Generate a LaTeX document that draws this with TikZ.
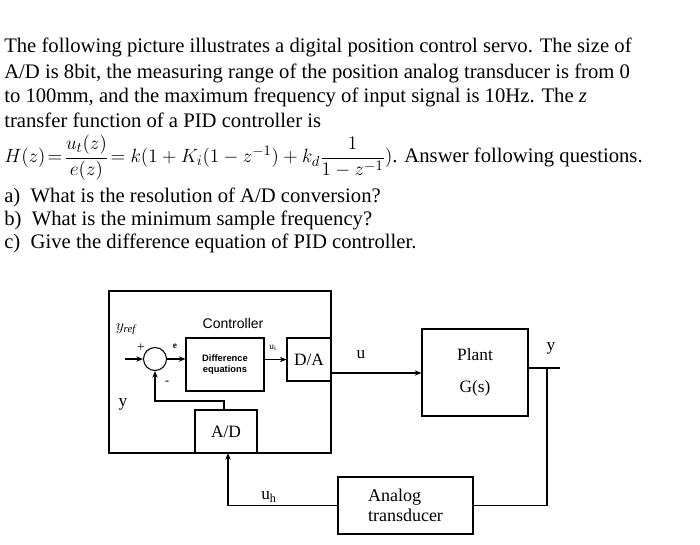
\documentclass[tikz,border=0pt]{standalone}
\usepackage{amsmath}
\usepackage{fontspec}
\setmainfont{Liberation Serif}
\newfontfamily\mysans{Liberation Sans}
\usetikzlibrary{arrows.meta}
\begin{document}
\begin{tikzpicture}[x=0.75pt,y=-0.75pt,
  box/.style={draw,line width=0.8pt},
  ln/.style={line width=0.8pt},
  arr/.style={ln,-{Stealth[length=5pt,width=4pt]}},
  txt/.style={inner sep=0pt,font=\fontsize{15.5}{18}\selectfont}]
\useasboundingbox (0,0) rectangle (700,544);
\node[txt,anchor=west] (l1) at (4,47) {The following picture illustrates a digital position control servo. The size of};
\node[txt,anchor=west] (l2) at (4,73) {A/D is 8bit, the measuring range of the position analog transducer is from 0};
\node[txt,anchor=west] (l3) at (4,97) {to 100mm, and the maximum frequency of input signal is 10Hz. The \textit{z}};
\node[txt,anchor=west] (l4) at (4,120) {transfer function of a PID controller is};
\node[txt,anchor=west] (f) at (4,158) {$H(z)\!=\!\dfrac{u_t(z)}{e(z)}\!=k(1+K_i(1-z^{-1})+k_d\dfrac{1}{1-z^{-1}})$. Answer following questions.};
\node[txt,anchor=west] (qa) at (4,197) {a)\ \ What is the resolution of A/D conversion?};
\node[txt,anchor=west] (qb) at (4,220) {b)\ \ What is the minimum sample frequency?};
\node[txt,anchor=west] (qc) at (4,243) {c)\ \ Give the difference equation of PID controller.};

\draw[box] (109,291) rectangle (331,453);
\node[box,minimum width=78*0.75pt,minimum height=53*0.75pt,inner sep=0pt,align=center,font=\mysans\bfseries\fontsize{7}{8}\selectfont] (de) at (225,364.5) {Difference\\equations};
\node[box,minimum width=44*0.75pt,minimum height=43*0.75pt,inner sep=0pt,font=\fontsize{13}{14}\selectfont] (da) at (309,359.5) {D/A};
\node[draw,circle,line width=0.8pt,minimum size=23*0.75pt,inner sep=0pt] (s) at (155,359) {};
\node[box,minimum width=62*0.75pt,minimum height=43*0.75pt,inner sep=0pt,font=\fontsize{13}{14}\selectfont] (ad) at (226,431.5) {A/D};
\node[box,minimum width=106*0.75pt,minimum height=87*0.75pt,inner sep=0pt,align=center,font=\fontsize{13}{20}\selectfont] (pl) at (475,372.5) {Plant\\[4pt]G(s)};
\node[box,minimum width=135*0.75pt,minimum height=57*0.75pt,inner sep=0pt,align=left,font=\fontsize{13.5}{15}\selectfont] (at) at (405.5,505.5) {Analog\\transducer};

\coordinate (in) at (125,359);
\draw[arr] (in) -- (s.west);
\draw[arr] (s.east) -- (de.west |- s.east);
\draw[arr] (de.east |- da.west) -- (da.west);
\draw[arr] (331,373) -- (pl.west |- 0,373);
\coordinate (yo) at (560,368);
\coordinate (br) at (547,368);
\draw[ln] (pl.east |- yo) -- (yo);
\draw[ln] (br) |- (at.east);
\draw[arr] (at.west) -| (228,453);
\draw[arr] (224,410) |- (155,401) -- (s.south);

\node[font=\fontsize{12}{12}\selectfont] (yr) at (126,329) {$y_{\mathit{ref}}$};
\node[font=\fontsize{10}{12}\selectfont] (pp) at (141,348) {+};
\node[font=\bfseries\fontsize{7}{8}\selectfont] (ee) at (175,346) {e};
\node[font=\bfseries\fontsize{9}{8}\selectfont] (mm) at (167,383) {-};
\node[font=\fontsize{13}{12}\selectfont] (y1) at (123,404) {y};
\node[font=\mysans\fontsize{10.5}{12}\selectfont] (ct) at (233,323) {Controller};
\node[font=\fontsize{7}{8}\selectfont] (ui) at (273,348) {u$_\mathrm{i}$};
\node[font=\fontsize{13}{12}\selectfont] (uu) at (361,355) {u};
\node[font=\fontsize{13}{12}\selectfont] (y2) at (551,348) {y};
\node[font=\fontsize{13}{12}\selectfont] (uh) at (269,497) {u$_\mathrm{h}$};
\end{tikzpicture}
\end{document}
